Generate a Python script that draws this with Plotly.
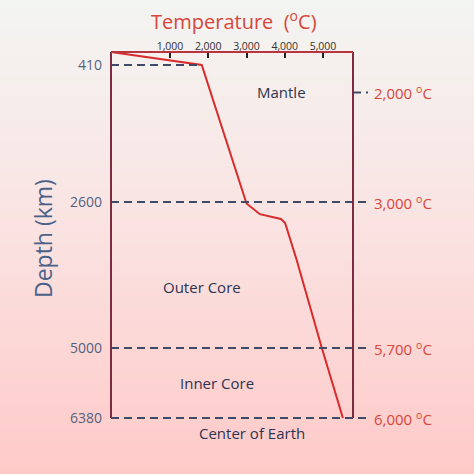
import numpy as np
import plotly.graph_objects as go

# ---------------- data ----------------
TEMP_C = [-540, 1830, 3000, 3350, 3900, 4010, 4310, 4970, 5520]
DEPTH_KM = [0, 410, 2625, 2800, 2880, 2945, 3550, 5000, 6380]

TEMP_TICKS = [1000, 2000, 3000, 4000, 5000]
TEMP_TICK_LABELS = ["1,000", "2,000", "3,000", "4,000", "5,000"]

BOUNDARY_KM = [410, 2600, 5000, 6380]
BOUNDARY_LABELS = ["410", "2600", "5000", "6380"]

MARK_TEMP_LABELS = ["2,000", "3,000", "5,700", "6,000"]
MARK_TEMP_DEPTH_KM = [850, 2600, 5000, 6380]

REGIONS = ["Mantle", "Outer Core", "Inner Core", "Center of Earth"]

# ---------------- layout scale (schematic) ----------------
W = H = 474
PX_PER_1000 = 38.25
PX_ZERO = 131.75
def t_at(px):
    return (px - PX_ZERO) * 1000.0 / PX_PER_1000

BOX_LEFT_T = t_at(111)
BOX_RIGHT_T = t_at(353)
DASH_END_T = t_at(368)
LABEL_T = t_at(372)

SCALE_KM = [0, 410, 2600, 5000, 6380]
SCALE_ROW = [52, 65, 202, 348, 418]
def ypos(km):
    return np.interp(km, SCALE_KM, SCALE_ROW)

# background gradient
def grad(f):
    top = np.array([243, 245, 242])
    mid = np.array([250, 226, 225])
    bot = np.array([254, 202, 200])
    if f < 0.5:
        c = top + (mid - top) * (f / 0.5)
    else:
        c = mid + (bot - mid) * ((f - 0.5) / 0.5)
    return "rgb(%d,%d,%d)" % tuple(np.round(c))

shapes = []
N = 80
for i in range(N):
    shapes.append(dict(type="rect", xref="paper", yref="paper", layer="below",
                       x0=0, x1=1, y0=1 - i / N, y1=1 - (i + 1) / N - 0.002,
                       fillcolor=grad((i + 0.5) / N), line=dict(width=0)))

DASH = dict(color="#3f4a66", width=2, dash="8px,5px")
BOX_V = "#7d2b42"

# dashed boundary lines
shapes.append(dict(type="line", xref="x", yref="y", x0=BOX_LEFT_T, x1=TEMP_C[1],
                   y0=ypos(BOUNDARY_KM[0]), y1=ypos(BOUNDARY_KM[0]), line=DASH))
for km in BOUNDARY_KM[1:]:
    shapes.append(dict(type="line", xref="x", yref="y", x0=BOX_LEFT_T, x1=DASH_END_T,
                       y0=ypos(km), y1=ypos(km), line=DASH))
shapes.append(dict(type="line", xref="x", yref="y", x0=BOX_RIGHT_T, x1=DASH_END_T,
                   y0=ypos(MARK_TEMP_DEPTH_KM[0]), y1=ypos(MARK_TEMP_DEPTH_KM[0]), line=DASH))

# box
shapes.append(dict(type="line", xref="x", yref="y", x0=BOX_LEFT_T, x1=BOX_LEFT_T,
                   y0=ypos(0), y1=ypos(6380), line=dict(color=BOX_V, width=2)))
shapes.append(dict(type="line", xref="x", yref="y", x0=BOX_RIGHT_T, x1=BOX_RIGHT_T,
                   y0=ypos(0), y1=ypos(6380), line=dict(color=BOX_V, width=2)))
shapes.append(dict(type="line", xref="x", yref="y", x0=BOX_LEFT_T, x1=BOX_RIGHT_T,
                   y0=ypos(0), y1=ypos(0), line=dict(color="#b8343f", width=2)))

fig = go.Figure()
fig.add_trace(go.Scatter(x=TEMP_C, y=ypos(DEPTH_KM), mode="lines",
                         line=dict(color="#d92b2b", width=2), hoverinfo="skip",
                         showlegend=False))

FONT = "Open Sans"
ann = []
ann.append(dict(text="Temperature  (<sup>o</sup>C)", x=234 / W, y=1 - 20 / H,
                xref="paper", yref="paper", showarrow=False,
                xanchor="center", yanchor="middle",
                font=dict(family=FONT, size=20, color="#d8463a")))
ann.append(dict(text="Depth (km)", x=43 / W, y=1 - 239 / H, textangle=-90,
                xref="paper", yref="paper", showarrow=False,
                xanchor="center", yanchor="middle",
                font=dict(family=FONT, size=23, color="#4a6289")))
for lab, km in zip(MARK_TEMP_LABELS, MARK_TEMP_DEPTH_KM):
    ann.append(dict(text=lab + " <sup>o</sup>C", x=LABEL_T, y=ypos(km), xref="x", yref="y",
                    xanchor="left", yanchor="middle", showarrow=False,
                    font=dict(family=FONT, size=15, color="#d8463a")))
REGION_XY = [(281, 92), (202, 287), (217, 383), (252, 433)]
for name, (px, py) in zip(REGIONS, REGION_XY):
    ann.append(dict(text=name, x=px / W, y=1 - py / H, xref="paper", yref="paper",
                    xanchor="center", yanchor="middle",
                    showarrow=False, font=dict(family=FONT, size=15, color="#2d3350")))

fig.update_layout(
    width=W, height=H, margin=dict(l=0, r=0, t=0, b=0),
    paper_bgcolor="white", plot_bgcolor="rgba(0,0,0,0)",
    shapes=shapes, annotations=ann, showlegend=False,
    xaxis=dict(domain=[0, 1], range=[t_at(0), t_at(W)], side="top", anchor="free",
               position=1 - 52 / H, showgrid=False, zeroline=False, showline=False,
               ticks="inside", ticklen=5, tickwidth=2, tickcolor="#222",
               tickvals=TEMP_TICKS, ticktext=TEMP_TICK_LABELS,
               tickfont=dict(family=FONT, size=10.5, color="#333"), fixedrange=True),
    yaxis=dict(domain=[0, 1], range=[H, 0], anchor="free", position=111 / W,
               showgrid=False, zeroline=False, showline=False, ticks="",
               tickvals=list(ypos(BOUNDARY_KM)), ticktext=BOUNDARY_LABELS,
               ticklabelstandoff=9,
               tickfont=dict(family=FONT, size=14, color="#55627f"), fixedrange=True),
)

fig.write_html("out.html")
